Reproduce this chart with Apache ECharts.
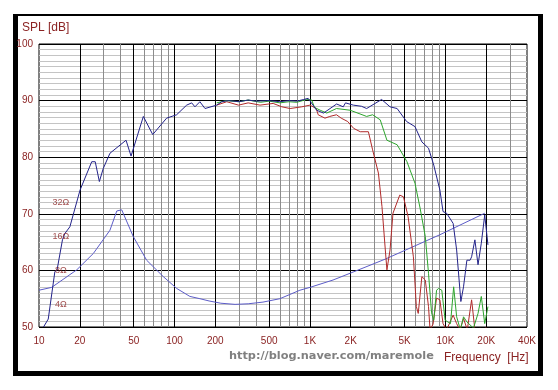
<!DOCTYPE html>
<html><head><meta charset="utf-8">
<script src="https://cdn.jsdelivr.net/npm/echarts@6/dist/echarts.min.js"></script>
<style>html,body{margin:0;padding:0;background:#fff}#c{width:558px;height:390px}</style>
</head><body><div id="c"></div>
<script>
// ---- data ----
const xTickLabels = [10,20,50,100,200,500,1000,2000,5000,10000,20000,40000];
const xMajorGrid = [20,50,100,200,500,1000,2000,5000,10000,20000];
const xMinorGrid = [30,40,60,70,80,90,300,400,600,700,800,900,3000,4000,6000,7000,8000,9000,30000];
const impLabels = ['32Ω','16Ω','8Ω','4Ω'];
const impLabelDb = [72,66,60,54];

const splFreq = [10.8,11.7,13.1,13.6,14.9,15.5,16.9,20.1,24.5,26.0,27.9,29.8,33.4,43.9,47.8,58.9,69.1,87.5,103.7,123,134,141.6,154,168,205,223,250,300,350,400,500,600,700,800,900,970,1120,1260,1574,1760,1830,2090,2400,2620,3380,3900,4400,5170,5960,6700,7500,8200,9100,9600,10200,11400,12100,13000,13600,14400,15200,15600,16500,17400,18400,19500,20600];
const splDb   = [50.0,51.4,59.8,60.1,65.4,66.5,67.7,74.2,79.2,79.2,75.7,78.0,80.7,83.0,80.2,87.2,84.0,86.9,87.5,89.2,89.6,88.9,89.8,88.6,89.2,89.8,90.0,89.8,90.1,89.9,90.0,89.8,90.0,89.9,90.2,90.4,88.3,87.8,89.4,88.9,89.6,89.2,89.0,88.6,90.2,88.9,88.6,86.3,85.4,82.7,81.6,78.6,74.2,70.4,70.1,68.3,63.6,54.5,57.1,61.8,61.8,62.4,65.4,61.0,64.8,69.8,64.5];

const impFreq = [10,12.4,19.0,25.2,33.4,37.5,40.8,49.6,62.3,82.7,104,130,154,180,220,280,350,450,600,843,1000,1480,1980,3600,9100,19500];
const impDb   = [56.5,57.0,60.1,63.0,67.1,70.5,70.7,66.0,61.8,58.9,56.8,55.4,55.0,54.6,54.2,54.0,54.1,54.4,55.0,56.5,57.0,58.3,59.5,62.0,66.3,70.1];

const greenFreq = [205,240,300,350,430,500,600,700,800,943,1030,1080,1190,1330,1570,1980,2620,2900,3300,3700,4400,5200,5960,6500,7100,7500,7900,8200,8600,8900,9400,9950,10900,11500,12100,12900,13600,14400,16100,17400,18400,19500,20600];
const greenDb   = [89.6,90.0,89.8,90.1,89.7,89.9,89.6,89.8,89.7,90.2,90.1,88.8,88.3,87.8,88.6,88.3,87.2,87.5,86.6,83.0,82.2,79.2,75.4,71.0,66.0,59.5,52.5,51.2,56.5,56.8,56.5,51.2,50.6,57.1,51.8,49.5,51.8,50.9,49.8,52.4,55.4,50.6,53.6];

const redFreq = [205,243,297,350,428,535,620,714,870,1000,1112,1150,1290,1400,1570,1700,1900,2100,2350,2700,2900,3200,3400,3600,3700,3900,4100,4600,4900,5300,5800,6100,6300,6700,7100,7500,7700,8100,8600,9100,9600,10200,11400,12100,12800,13600,14500,15600,16500,18000,19500,20000];
const redDb   = [89.2,89.8,89.2,89.6,89.2,89.5,88.9,88.6,88.9,89.2,88.6,87.5,86.9,87.2,87.5,86.9,86.3,85.1,84.5,84.5,81.3,77.2,71.3,63.6,60.1,63.6,70.1,73.3,73.0,69.5,62.4,53.6,52.4,58.9,58.3,53.6,49.5,50.5,55.1,54.8,50.6,49.5,52.1,50.6,49.5,51.5,49.5,54.8,49.5,49.8,49.5,50.0];

// ---- chart ----
const zip = (f, v) => f.map((x, i) => [x, v[i]]);
const textRed = '#8b2323';
const fmtHz = v => v >= 1000 ? (v / 1000) + 'K' : String(v);

const chart = echarts.init(document.getElementById('c'), null, {renderer: 'canvas'});
const lineBase = {type: 'line', showSymbol: false, symbol: 'none', smooth: false, animation: false, clip: true, z: 5};

chart.setOption({
  animation: false,
  backgroundColor: '#fff',
  graphic: [
    {type: 'rect', z: -100, shape: {x: 13, y: 14, width: 530, height: 362}, style: {fill: '#000'}},
    {type: 'rect', z: -99, shape: {x: 18, y: 16, width: 520, height: 355}, style: {fill: '#fff'}},
    {type: 'text', left: 229, top: 351, style: {text: 'http://blog.naver.com/maremole', fill: '#808080', font: 'bold 11.3px "DejaVu Sans", sans-serif'}},
    {type: 'text', left: 444, top: 352, style: {text: 'Frequency  [Hz]', fill: textRed, font: '12px "Liberation Sans", Arial, sans-serif'}},
    {type: 'text', left: 22, top: 22, style: {text: 'SPL [dB]', fill: textRed, font: '12px "Liberation Sans", Arial, sans-serif'}}
  ],
  grid: {left: 39, right: 31, top: 44, bottom: 63, show: true, borderColor: '#000', borderWidth: 1, backgroundColor: 'transparent'},
  xAxis: {
    type: 'log', logBase: 10, min: 10, max: 40000,
    axisLine: {show: false}, axisTick: {show: false},
    splitLine: {show: false}, minorSplitLine: {show: false},
    axisLabel: {customValues: xTickLabels, formatter: fmtHz, color: textRed, fontSize: 10, fontFamily: '"Liberation Sans", Arial, sans-serif', margin: 9, showMinLabel: true, showMaxLabel: true}
  },
  yAxis: {
    type: 'value', min: 50, max: 100, interval: 10,
    axisLine: {show: false}, axisTick: {show: false},
    splitLine: {show: true, lineStyle: {color: '#000', width: 1}},
    minorTick: {show: false, splitNumber: 10},
    minorSplitLine: {show: true, lineStyle: {color: '#c4c4c4', width: 1}},
    axisLabel: {color: textRed, fontSize: 10, fontFamily: '"Liberation Sans", Arial, sans-serif', margin: 6}
  },
  series: [
    {
      type: 'line', data: [[10, 40]], symbol: 'none', lineStyle: {opacity: 0}, z: 1, silent: true,
      markLine: {
        silent: true, symbol: 'none', animation: false, label: {show: false},
        data: xMinorGrid.map(v => ({xAxis: v, lineStyle: {color: '#8c8c8c', width: 1, type: 'solid'}}))
          .concat(xMajorGrid.map(v => ({xAxis: v, lineStyle: {color: '#000', width: 1, type: 'solid'}})))
      }
    },
    Object.assign({}, lineBase, {name: 'impedance', data: zip(impFreq, impDb), lineStyle: {color: '#5c5cc8', width: 1}}),
    Object.assign({}, lineBase, {name: 'red', data: zip(redFreq, redDb), lineStyle: {color: '#b02a2a', width: 1}}),
    Object.assign({}, lineBase, {name: 'green', data: zip(greenFreq, greenDb), lineStyle: {color: '#2ca52c', width: 1}}),
    Object.assign({}, lineBase, {name: 'spl', data: zip(splFreq, splDb), lineStyle: {color: '#23238a', width: 1}}),
    {
      type: 'scatter', symbolSize: 0, z: 6, silent: true,
      data: impLabels.map((t, i) => ({value: [14.5, impLabelDb[i]], name: t})),
      label: {show: true, position: 'inside', formatter: p => p.name, color: textRed, fontSize: 9, fontFamily: '"Liberation Sans", Arial, sans-serif'}
    }
  ]
});
</script></body></html>
